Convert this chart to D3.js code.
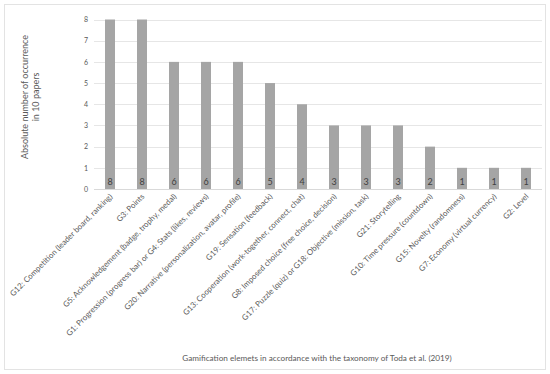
<!DOCTYPE html>
<html>
<head>
<meta charset="utf-8">
<script src="https://cdn.jsdelivr.net/npm/d3@7"></script>
<style>
body { margin: 0; background: #fff; }
text { font-family: Lato, "Open Sans", sans-serif; }
</style>
</head>
<body>
<svg id="chart" width="550" height="374"></svg>
<script>
// categories + counts
var categories = [
  "G12: Competition (leader board, ranking)",
  "G3: Points",
  "G5: Acknowledgement (badge, trophy, medal)",
  "G1: Progression (progress bar) or G4: Stats (likes, reviews)",
  "G20: Narrative (personalization, avatar, profile)",
  "G19: Sensation (feedback)",
  "G13: Cooperation (work-together, connect, chat)",
  "G8: Imposed choice (free choice, decision)",
  "G17: Puzzle (quiz) or G18: Objective (mission, task)",
  "G21: Storytelling",
  "G10: Time pressure (countdown)",
  "G15: Novelty (randomness)",
  "G7: Economy (virtual currency)",
  "G2: Level"
];
var counts = [8, 8, 6, 6, 6, 5, 4, 3, 3, 3, 2, 1, 1, 1];
var yTicks = [0, 1, 2, 3, 4, 5, 6, 7, 8];

var svg = d3.select("#chart");

// light frame around the whole thing
svg.append("rect")
  .attr("x", 4.5).attr("y", 4.5)
  .attr("width", 541).attr("height", 365)
  .attr("fill", "none").attr("stroke", "#e3e3e3");

var x = d3.scaleBand().domain(categories).range([94, 542]).paddingInner(0.6875).paddingOuter(0.34375);
var y = d3.scaleLinear().domain([0, 8]).range([189, 19.5]);

// gridlines
svg.append("g").selectAll("line")
  .data(yTicks)
  .enter().append("line")
    .attr("x1", 94).attr("x2", 542)
    .attr("y1", function(d) { return Math.round(y(d)) + 0.5; })
    .attr("y2", function(d) { return Math.round(y(d)) + 0.5; })
    .attr("stroke", function(d) { return d === 0 ? "#d9d9d9" : "#e6e6e6"; })
    .attr("stroke-width", 1);

// y tick labels
var yAxis = d3.axisLeft(y).tickValues(yTicks).tickSize(0).tickPadding(0);
var ya = svg.append("g").attr("transform", "translate(88,0)").call(yAxis);
ya.select(".domain").remove();
ya.selectAll("text").attr("fill", "#595959").style("font-size", "7px").style("font-family", "Lato, sans-serif");

// bars
svg.append("g").selectAll("rect")
  .data(counts)
  .enter().append("rect")
    .attr("x", function(d, i) { return x(categories[i]); })
    .attr("y", function(d) { return y(d); })
    .attr("width", x.bandwidth())
    .attr("height", function(d) { return y(0) - y(d); })
    .attr("fill", "#a5a5a5");

// value labels sitting at the bottom of the bars
svg.append("g").selectAll("text")
  .data(counts)
  .enter().append("text")
    .attr("x", function(d, i) { return x(categories[i]) + x.bandwidth() / 2; })
    .attr("y", y(0) - 4)
    .attr("text-anchor", "middle")
    .attr("fill", "#404040")
    .style("font-size", "9px")
    .text(function(d) { return d; });

// rotated category labels
svg.append("g").selectAll("text")
  .data(categories)
  .enter().append("text")
    .attr("transform", function(d) {
      return "translate(" + (x(d) + x.bandwidth() / 2 + 3) + "," + 197 + ") rotate(-45)";
    })
    .attr("text-anchor", "end")
    .attr("fill", "#595959")
    .style("font-size", "7.9px")
    .text(function(d) { return d; });

// y title, two lines
var yt = svg.append("text")
  .attr("transform", "translate(31,97) rotate(-90)")
  .attr("text-anchor", "middle")
  .attr("fill", "#595959")
  .style("font-size", "9px");
yt.append("tspan").attr("x", 0).attr("dy", "-0.3em").text("Absolute number of occurrence");
yt.append("tspan").attr("x", 0).attr("dy", "1.22em").text("in 10 papers");

// x title
svg.append("text")
  .attr("x", 317).attr("y", 361)
  .attr("text-anchor", "middle")
  .attr("fill", "#595959")
  .style("font-size", "8.2px")
  .text("Gamification elemets in accordance with the taxonomy of Toda et al. (2019)");
</script>
</body>
</html>
